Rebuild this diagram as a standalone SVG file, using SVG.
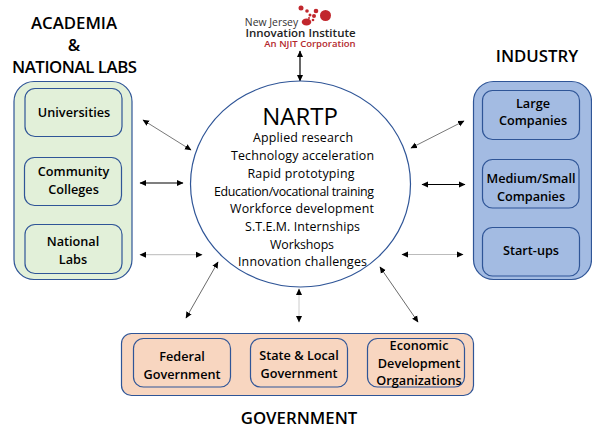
<svg xmlns="http://www.w3.org/2000/svg" width="592" height="441" viewBox="0 0 592 441">
<style>
text{font-family:"Open Sans","Noto Sans","Liberation Sans",sans-serif;fill:#000;text-anchor:middle}
.h{font-size:16.800px;font-weight:600}
.n{font-size:12.700px;font-weight:600}
.b{font-size:12.400px}
.box{stroke:#2f5597;stroke-width:1.2}
.g{fill:#e2f0d9}.u{fill:#a3bbe2}.o{fill:#f8d6c0}
.c{fill:none;marker-start:url(#a);marker-end:url(#a)}
</style>
<defs>
<marker id="a" markerUnits="userSpaceOnUse" markerWidth="7" markerHeight="7" refX="6" refY="3.500" orient="auto-start-reverse" viewBox="0 0 7 7"><path d="M0 0.500L6.500 3.500L0 6.500z" fill="#000"/></marker>
</defs>
<rect width="592" height="441" fill="#fff"/>
<g id="connectors">
<path class="c" d="M300 51V81" stroke="#000" stroke-width="1.200"/>
<path class="c" d="M143 120L191 150" stroke="#555" stroke-width=".8"/>
<path class="c" d="M140 183H183" stroke="#000" stroke-width="1.100"/>
<path class="c" d="M140 254.700H202" stroke="#bbb" stroke-width="1"/>
<path class="c" d="M411 148L464 121" stroke="#555" stroke-width=".8"/>
<path class="c" d="M422 184.500H465" stroke="#000" stroke-width="1.100"/>
<path class="c" d="M402 254.500H463" stroke="#bbb" stroke-width="1"/>
<path class="c" d="M218 262L186 318" stroke="#444" stroke-width=".8"/>
<path class="c" d="M299 289V322" stroke="#ccc" stroke-width="1"/>
<path class="c" d="M380 267L418 322" stroke="#444" stroke-width=".8"/>
</g>
<g id="logo">
<text x="271.500" y="25.500" style="font-size:10.400px;fill:#333">New Jersey</text>
<text x="300.500" y="36.500" style="font-size:11.500px;font-weight:600;fill:#222">Innovation Institute</text>
<text x="310" y="47" style="font-size:9.500px;font-weight:600;fill:#b3282d">An NJIT Corporation</text>
<g fill="#c1272d">
<circle cx="325.500" cy="15.500" r="5.500"/><ellipse cx="306.500" cy="22" rx="4.800" ry="3.500"/><circle cx="301" cy="8" r="2.500"/><circle cx="307" cy="11" r="1.800"/><circle cx="316" cy="11" r="2.300"/><circle cx="310" cy="15" r="1.500"/><circle cx="314" cy="16" r="2"/><circle cx="309" cy="18" r="1"/><circle cx="313" cy="20" r="1.300"/>
</g>
</g>
<g id="nartp">
<ellipse cx="300.500" cy="184" rx="110" ry="103" fill="#fff" class="box"/>
<text x="300" y="125" style="font-size:24px">NARTP</text>
<text class="b" x="303" y="142" textLength="100">Applied research</text>
<text class="b" x="302.500" y="160" textLength="143">Technology acceleration</text>
<text class="b" x="301" y="178" textLength="107">Rapid prototyping</text>
<text class="b" x="294" y="196" textLength="160">Education/vocational training</text>
<text class="b" x="302" y="213" textLength="144">Workforce development</text>
<text class="b" x="302.500" y="231" textLength="115">S.T.E.M. Internships</text>
<text class="b" x="302" y="249" textLength="64">Workshops</text>
<text class="b" x="302.500" y="266" textLength="129">Innovation challenges</text>
</g>
<g id="academia">
<rect class="box g" x="14" y="81.500" width="118" height="198" rx="20"/>
<text class="h" x="74" y="29">ACADEMIA</text>
<text class="h" x="74" y="51">&amp;</text>
<text class="h" x="74.500" y="73" textLength="125">NATIONAL LABS</text>
</g>
<g id="universities"><rect class="box g" x="25" y="88.500" width="97" height="48" rx="10"/><text class="n" x="74" y="117">Universities</text></g>
<g id="community-colleges"><rect class="box g" x="24.500" y="157.500" width="97" height="48" rx="10"/><text class="n" x="73.500" y="176">Community</text><text class="n" x="73.500" y="194">Colleges</text></g>
<g id="national-labs"><rect class="box g" x="25" y="224.500" width="97" height="49" rx="10"/><text class="n" x="73" y="246">National</text><text class="n" x="73" y="264">Labs</text></g>
<g id="industry">
<rect class="box u" x="473.500" y="81.500" width="118" height="198" rx="20"/>
<text class="h" x="537" y="62">INDUSTRY</text>
</g>
<g id="large-companies"><rect class="box u" x="482.500" y="90.500" width="97" height="49" rx="10"/><text class="n" x="533" y="108">Large</text><text class="n" x="533" y="125">Companies</text></g>
<g id="medium-small"><rect class="box u" x="482.500" y="159.500" width="96.500" height="48.500" rx="10"/><text class="n" x="531" y="183">Medium/Small</text><text class="n" x="531" y="201">Companies</text></g>
<g id="start-ups"><rect class="box u" x="482.500" y="227.500" width="97" height="48.500" rx="10"/><text class="n" x="531" y="255">Start-ups</text></g>
<g id="government">
<rect class="box o" x="121.500" y="333.500" width="352" height="62" rx="10"/>
<text class="h" x="299" y="424">GOVERNMENT</text>
</g>
<g id="federal"><rect class="box o" x="133.500" y="338.500" width="97" height="48.500" rx="10"/><text class="n" x="182" y="361">Federal</text><text class="n" x="182" y="379">Government</text></g>
<g id="state-local"><rect class="box o" x="250.500" y="338.500" width="97" height="48.500" rx="10"/><text class="n" x="299" y="360">State &amp; Local</text><text class="n" x="299" y="378">Government</text></g>
<g id="economic"><rect class="box o" x="367.500" y="338.500" width="97" height="48.500" rx="10"/><text class="n" x="419" y="350">Economic</text><text class="n" x="419" y="368">Development</text><text class="n" x="419" y="385">Organizations</text></g>
</svg>
